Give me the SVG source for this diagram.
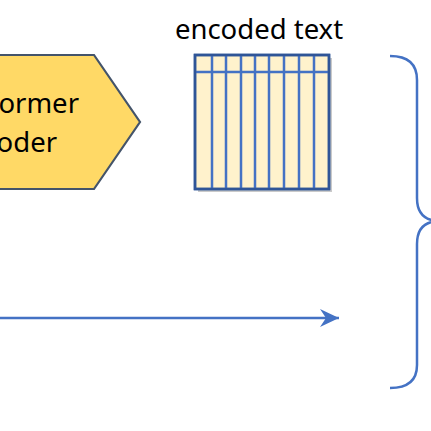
<svg xmlns="http://www.w3.org/2000/svg" width="431" height="431" viewBox="0 0 431 431">
<style>
.lbl{font-family:"Noto Sans","Liberation Sans",sans-serif;font-size:27.5px;fill:#000}
.grid{fill:none;stroke:#4472C4;stroke-width:2.5}
.conn{fill:none;stroke:#4472C4;stroke-width:2.5}
</style>
<defs>
<marker id="ah" viewBox="0 0 20 20" refX="19" refY="10" markerUnits="userSpaceOnUse" markerWidth="20" markerHeight="20" orient="auto">
<path d="M0,1 L19,10 L0,19 L6,10 Z" fill="#4472C4"/>
</marker>
</defs>
<g id="encoder">
<path d="M-5,55 L94,55 L140,122 L94,189 L-5,189 Z" fill="#FFD966" stroke="#44546A" stroke-width="2.2"/>
<text class="lbl" x="79" y="113" text-anchor="end">former</text>
<text class="lbl" x="57" y="152" text-anchor="end">oder</text>
</g>
<g id="encoded-text">
<text class="lbl" x="259" y="39" text-anchor="middle">encoded text</text>
<rect x="198" y="58" width="134" height="134" fill="#A6A6A6" opacity="0.6"/>
<rect x="195" y="55" width="134" height="134" fill="#FFF2CC" stroke="#2F5597" stroke-width="2.5"/>
<path class="grid" d="M195,72H329M212,55V189M226,55V189M241,55V189M255,55V189M269,55V189M284,55V189M299,55V189M314,55V189"/>
<rect x="195" y="55" width="134" height="134" fill="none" stroke="#2F5597" stroke-width="2.5"/>
</g>
<g id="connectors">
<path class="conn" d="M0,318 H339" marker-end="url(#ah)"/>
<path class="conn" d="M390,56 Q417,56 417,80 V198 Q417,221 440,221 Q417,221 417,244 V365 Q417,388 390,388"/>
</g>
</svg>
